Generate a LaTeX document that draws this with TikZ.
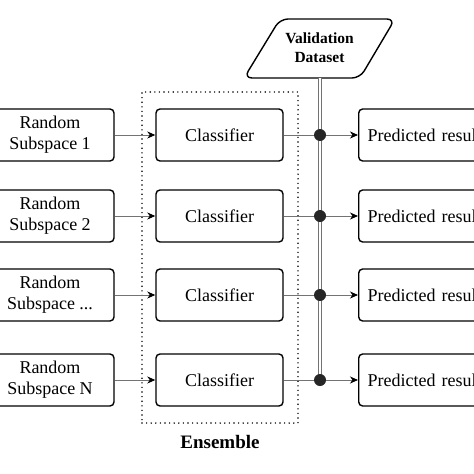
\documentclass[tikz,border=0pt]{standalone}
\usepackage{fontspec}
\setmainfont{Liberation Serif}
\usetikzlibrary{arrows.meta}
\newcommand\mythreedots{...}
\begin{document}
\begin{tikzpicture}[x=1pt,y=-1pt,
  box/.style={draw,line width=1.4pt,rounded corners=4pt,minimum height=52pt,inner sep=0pt,
    font=\fontsize{18}{21}\selectfont,align=center},
  predbox/.style={box,anchor=west,text width=124pt,align=left,inner xsep=9pt},
  dot/.style={circle,fill=black!85,inner sep=0pt,minimum size=12pt},
  conn/.style={draw=black!55,line width=0.9pt},
  arrow/.style={conn,-{Stealth[black,length=8pt,width=7pt,inset=2.5pt]}},
  dblline/.style={draw=black!55,line width=1pt,double=white,double distance=2pt},
  ensbox/.style={draw,line width=1.6pt,dash pattern=on 0pt off 4.6pt,line cap=round,
    minimum width=156pt,minimum height=331pt,inner sep=0pt}
]
\useasboundingbox (0,0) rectangle (474,474);
\clip (0,0) rectangle (474,474);
\fill[white] (0,0) rectangle (474,474);

% ensemble dotted frame
\node[ensbox] (ens) at (220,257.5) {};
\node[font=\fontsize{19}{22}\selectfont\bfseries] (enslabel) at (220,442) {Ensemble};

% validation dataset
\draw[line width=1.4pt,rounded corners=8pt] (337,19) -- (395,19) -- (360,78) -- (244,78) -- (280,19) -- cycle;
\node[font=\fontsize{15.5}{19}\selectfont\bfseries,align=center] (val) at (319.5,48) {Validation\\Dataset};
\coordinate (valb) at (320,78);

% rows
\foreach \i/\y/\lab in {1/135/1, 2/216/2, 3/295/\mythreedots, 4/380/N}{
  \node[box,minimum width=128pt] (s\i) at (50,\y) {Random\\Subspace \lab};
  \node[box,minimum width=127pt] (c\i) at (219.5,\y) {Classifier};
  \node[predbox] (p\i) at (358,\y) {Predicted result};
  \coordinate (d\i) at (320,\y);
}

\draw[dblline] (valb) -- (d4);

\foreach \i in {1,2,3,4}{
  \draw[arrow] (s\i) -- (c\i);
  \draw[conn] (c\i) -- (d\i);
  \node[dot] (dd\i) at (d\i) {};
  \draw[arrow] (dd\i) -- (p\i);
}
\end{tikzpicture}
\end{document}
